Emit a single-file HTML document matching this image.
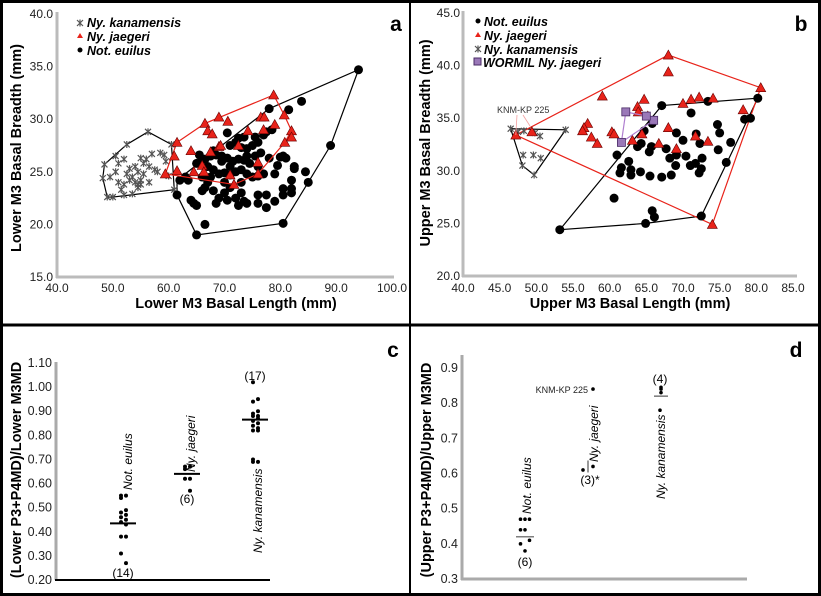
<!DOCTYPE html>
<html><head><meta charset="utf-8"><style>
html,body{margin:0;padding:0;background:#fff;}
svg{display:block;font-family:"Liberation Sans",sans-serif;}
</style></head><body>
<svg id="fig" width="821" height="596" viewBox="0 0 821 596" xmlns="http://www.w3.org/2000/svg">
<rect x="1.5" y="1.5" width="818" height="593" fill="#fff" stroke="#000" stroke-width="3"/>
<line x1="410" y1="0" x2="410" y2="596" stroke="#000" stroke-width="2"/>
<line x1="0" y1="325" x2="821" y2="325" stroke="#000" stroke-width="3"/>
<g id="gA"></g>
<g id="gB"></g>
<g id="gC"></g>
<g id="gD"></g>
</svg>
<script>
// ---------- DATA ----------
const aXTicks=[40,50,60,70,80,90,100];
const aYTicks=[15,20,25,30,35,40];
const aEuilus=[[62,24.2],[61.5,22.8],[63.5,24.2],[64,22.3],[64.5,22],[65,21.8],[66,23.2],[66.5,23.5],[67,24],[67.5,24.5],[68,23.2],[68.5,22],[69,22.5],[70,23],[70.5,22.3],[71,23.5],[72,22.5],[72.5,21.8],[73,23],[73.5,22.2],[74,22],[76,22.8],[76,22],[77.5,22.8],[77.5,21.6],[79,22.2],[80.5,22.8],[80.5,23.4],[82,23],[82,23.4],[82,24.2],[82.5,25.5],[82.5,25.3],[80,26.4],[80.5,26.5],[81,26.3],[79,24.8],[79.5,25.6],[77,24.8],[76,24.6],[75,24.5],[74,24.8],[73,25.2],[72,25],[71,24.7],[70,24.9],[69,24.8],[68,25.2],[67,25.5],[66,26.2],[65,25.8],[65.5,26.6],[66.5,26.2],[67.5,26.5],[68.5,26.6],[69.5,26.5],[70.5,26.3],[71.5,26],[72.5,26.2],[73.5,26.1],[74.5,25.8],[75.5,26.5],[76.5,26.8],[75,27.5],[74,27.2],[73,27.3],[72,27.8],[71,27.5],[70.5,28.7],[72.5,28.2],[73.5,28.3],[75.5,28.3],[76,27.8],[77,28.5],[77.5,28.8],[78.5,29],[78,31],[81.5,30.9],[83.8,31.7],[84.5,25],[85,24],[80.5,20.1],[65,19],[66.5,20],[94,34.7],[89,27.5],[70,24],[68,27],[69.5,26],[74,26.5],[76,25.5],[78,26.3],[71,25.5],[73,24],[66,24.5],[63,24.5]];
const aEuilusHull=[[94,34.7],[89,27.5],[85,24],[80.5,20.1],[65,19],[61.5,22.8],[61.5,24.2],[78,31]];
const aJaegeri=[[61.5,27.8],[59.4,24.8],[71.7,23.8],[76,24.8],[80.8,27.8],[82,28.9],[80.7,30.4],[78.8,32.3],[66.5,29.6],[69,30.2],[70.6,29.8],[76.5,30.2],[77.1,30.2],[67,28.9],[67.8,28.6],[74.2,28.9],[77,29],[79,29.5],[69,27.4],[69.3,27.5],[64,27],[61,26.5],[72.5,27.5],[67.5,26.9],[66,25.6],[64.5,25],[66.3,25],[61.5,25.1],[71,24.7],[76,25.9],[82,28.3]];
const aJaegeriHull=[[61.5,27.8],[59.4,24.8],[71.7,23.8],[76,24.8],[80.8,27.8],[82,28.9],[80.7,30.4],[78.8,32.3],[66.5,29.6]];
const aKanam=[[48.5,25.7],[52.5,27.6],[56.3,28.8],[60.5,27.6],[61,23.3],[50,22.6],[49,22.6],[48.2,24.4],[49.5,24.5],[50.5,25],[51,24],[51.5,23.3],[52,23.8],[52.5,24.8],[53,25.3],[53.5,24.5],[54,24],[54,25.5],[54.5,23.8],[54.5,25],[55,24.2],[55,26.3],[55.5,24.8],[55.5,25.8],[56,26.2],[56.5,25.5],[56.5,24],[57,26.7],[58.5,26.8],[59.2,26.6],[59.5,26],[58,25],[57.5,25.2],[52,26.2],[50.5,26.5],[53.5,22.9],[52,22.8],[60,24.6],[51,25.8],[53,24.2],[54.5,23.5],[55,23.8]];
const aKanamHull=[[48.5,25.7],[52.5,27.6],[56.3,28.8],[60.5,27.6],[61,23.3],[50,22.6],[49,22.6],[48.2,24.4]];

const bXTicks=[40,45,50,55,60,65,70,75,80,85];
const bYTicks=[20,25,30,35,40,45];
const bEuilus=[[53.2,24.4],[64.9,25],[72.5,25.7],[80.2,36.9],[67.1,36.2],[73.4,36.6],[71.1,35.5],[74.7,34.4],[75,33.6],[78.4,34.9],[79.2,35],[69.1,33.6],[70,32.9],[71.8,33.5],[72.3,32.6],[67.7,32.1],[64.3,32.6],[63.8,32.3],[65.7,32.3],[65.4,31.8],[68.2,31.2],[69.1,31.5],[70.4,31.4],[72.6,31.2],[74.8,32],[76.5,32.7],[75.9,30.8],[62.6,30.9],[61.6,30.3],[62.9,30.1],[61.4,29.8],[62.9,29.6],[64.2,29.9],[65.5,29.5],[67.1,29.4],[68.4,29.6],[69,30.5],[71,30.5],[71.7,30.7],[72.2,29.8],[72.5,30.2],[61,31.5],[65.8,34.5],[64.7,33.8],[60.6,27.4],[65.8,26.2],[66.1,25.6]];
const bEuilusHull=[[53.2,24.4],[67.1,36.2],[80.2,36.9],[72.5,25.7],[64.9,25]];
const bJaegeri=[[47.2,33.4],[68,41],[80.6,37.9],[74,24.9],[68,39.4],[59,37.1],[64.7,36.8],[63.8,36.1],[63.9,35.6],[57,34.5],[56.5,34.1],[56.3,33.8],[57.5,33.2],[58.3,32.6],[60.3,33.7],[60.6,33.5],[63.1,32.9],[64.4,33.5],[49.4,33.7],[68,34.1],[66.7,32.6],[69.1,32.1],[70,36.4],[71.1,36.8],[72.2,37],[74.1,36.9],[73.4,32.8],[71.7,33.3],[78.2,35.8],[65.2,35.2]];
const bJaegeriHull=[[47.2,33.4],[68,41],[80.6,37.9],[74,24.9]];
const bKanam=[[46.5,34],[54,33.9],[49.7,29.6],[48.1,30.5],[47.5,33.7],[48.2,31.5],[49.6,31.5],[50.6,31.2],[50.5,33.3],[49.8,33.6],[48.3,33.8]];
const bKanamHull=[[46.5,34],[54,33.9],[49.7,29.6],[48.1,30.5]];
const bWormil=[[62.2,35.6],[61.6,32.7],[66,34.8],[65,35.2]];

const cTicks=[0.2,0.3,0.4,0.5,0.6,0.7,0.8,0.9,1.0,1.1];
const cEuilus=[0.55,0.55,0.54,0.49,0.48,0.47,0.46,0.45,0.44,0.43,0.38,0.38,0.31,0.27];
const cJaegeri=[0.67,0.67,0.66,0.62,0.62,0.57];
const cKanam=[1.02,0.95,0.94,0.90,0.89,0.88,0.88,0.87,0.86,0.85,0.84,0.83,0.82,0.82,0.70,0.69,0.69];
const cMeans=[0.435,0.64,0.865];

const dTicks=[0.3,0.4,0.5,0.6,0.7,0.8,0.9];
const dEuilus=[0.47,0.47,0.47,0.44,0.44,0.41,0.40,0.38];
const dJaegeri=[0.84,0.62,0.61];
const dKanam=[0.845,0.84,0.83,0.78];
const dMeans=[0.42,0.62,0.82];

// ---------- HELPERS ----------
const NS="http://www.w3.org/2000/svg";
function mk(parent,tag,attrs,txt){const e=document.createElementNS(NS,tag);for(const k in attrs)e.setAttribute(k,attrs[k]);if(txt!==undefined)e.textContent=txt;parent.appendChild(e);return e;}
function lin(d0,d1,r0,r1){return v=>r0+(v-d0)/(d1-d0)*(r1-r0);}
function dot(g,x,y,r){const e=mk(g,'circle',{cx:x,cy:y,r:r,fill:'#000'});

return e;}
function tri(g,x,y){const e=mk(g,'polygon',{points:`${x},${y-5} ${x+5},${y+4} ${x-5},${y+4}`,fill:'#e8231a',stroke:'#600',"stroke-width":0.6});

}
function cross(g,x,y){const e=mk(g,'path',{d:`M${x-3},${y-3}L${x+3},${y+3}M${x-3},${y+3}L${x+3},${y-3}M${x},${y-3.5}L${x},${y+3.5}`,stroke:'#555',"stroke-width":1.2,fill:'none'});

}
function sq(g,x,y){const e=mk(g,'rect',{x:x-4,y:y-4,width:8,height:8,fill:'#9a78b8',stroke:'#4a2c66',"stroke-width":0.8});

}
function hull(g,pts,sx,sy,color,name){const e=mk(g,'polygon',{points:pts.map(p=>sx(p[0])+','+sy(p[1])).join(' '),fill:'none',stroke:color,"stroke-width":1.2});

}
function txt(g,x,y,s,attrs,name){const e=mk(g,'text',Object.assign({x:x,y:y},attrs),s);

return e;}

// ---------- PANEL A ----------
(function(){
const g=document.getElementById('gA');
const sx=lin(40,100,57,392), sy=lin(15,40,277,14);
mk(g,'line',{x1:57,y1:12,x2:57,y2:278,stroke:'#bbb',"stroke-width":3});
mk(g,'line',{x1:56,y1:277,x2:394,y2:277,stroke:'#bbb',"stroke-width":3});
aYTicks.forEach(t=>txt(g,53,sy(t)+4,t.toFixed(1),{"text-anchor":"end","font-size":12,fill:"#222"},'y-tick-label'));
aXTicks.forEach(t=>txt(g,sx(t),292,t.toFixed(1),{"text-anchor":"middle","font-size":12,fill:"#222"},'x-tick-label'));
txt(g,236,308,'Lower M3 Basal Length (mm)',{"text-anchor":"middle","font-size":14.5,"font-weight":"bold"},'x-axis-title');
txt(g,0,0,'Lower M3 Basal Breadth (mm)',{"text-anchor":"middle","font-size":14.5,"font-weight":"bold",transform:"translate(21,148) rotate(-90)"},'y-axis-title');
txt(g,396,31,'a',{"text-anchor":"middle","font-size":21,"font-weight":"bold"},'panel-label');
hull(g,aKanamHull,sx,sy,'#000','kanamensis-hull');
hull(g,aEuilusHull,sx,sy,'#000','euilus-hull');
aKanam.forEach(p=>cross(g,sx(p[0]),sy(p[1])));
aEuilus.forEach(p=>dot(g,sx(p[0]),sy(p[1]),4.5));
hull(g,aJaegeriHull,sx,sy,'#e8231a','jaegeri-hull');
aJaegeri.forEach(p=>tri(g,sx(p[0]),sy(p[1])));
cross(g,80,23);txt(g,87,27,'Ny. kanamensis',{"font-size":12.5,"font-weight":"bold","font-style":"italic"},'legend-entry');
mk(g,'polygon',{points:"80,33 83,38 77,38",fill:'#e8231a'});txt(g,87,41,'Ny. jaegeri',{"font-size":12.5,"font-weight":"bold","font-style":"italic"},'legend-entry');
dot(g,80,50,2.5);txt(g,87,55,'Not. euilus',{"font-size":12.5,"font-weight":"bold","font-style":"italic"},'legend-entry');
})();

// ---------- PANEL B ----------
(function(){
const g=document.getElementById('gB');
const sx=lin(40,85,463,793), sy=lin(20,45,276,13);
mk(g,'line',{x1:463,y1:11,x2:463,y2:277,stroke:'#bbb',"stroke-width":3});
mk(g,'line',{x1:462,y1:276,x2:797,y2:276,stroke:'#bbb',"stroke-width":3});
bYTicks.forEach(t=>txt(g,460,sy(t)+4,t.toFixed(1),{"text-anchor":"end","font-size":12,fill:"#222"},'y-tick-label'));
bXTicks.forEach(t=>txt(g,sx(t),292,t.toFixed(1),{"text-anchor":"middle","font-size":12,fill:"#222"},'x-tick-label'));
txt(g,630,308,'Upper M3 Basal Length (mm)',{"text-anchor":"middle","font-size":14.5,"font-weight":"bold"},'x-axis-title');
txt(g,0,0,'Upper M3 Basal Breadth (mm)',{"text-anchor":"middle","font-size":14.5,"font-weight":"bold",transform:"translate(430,143) rotate(-90)"},'y-axis-title');
txt(g,801,31,'b',{"text-anchor":"middle","font-size":21,"font-weight":"bold"},'panel-label');
hull(g,bKanamHull,sx,sy,'#000','kanamensis-hull');
hull(g,bEuilusHull,sx,sy,'#000','euilus-hull');
hull(g,bJaegeriHull,sx,sy,'#e8231a','jaegeri-hull');
bKanam.forEach(p=>cross(g,sx(p[0]),sy(p[1])));
bEuilus.forEach(p=>dot(g,sx(p[0]),sy(p[1]),4.5));
bJaegeri.forEach(p=>tri(g,sx(p[0]),sy(p[1])));
const wl=mk(g,'polyline',{points:[0,1,2,3,0].map(i=>sx(bWormil[i][0])+','+sy(bWormil[i][1])).join(' '),fill:'none',stroke:'#b07fd0',"stroke-width":1.2});


bWormil.forEach(p=>sq(g,sx(p[0]),sy(p[1])));
mk(g,'path',{d:`M517,115 L${sx(47.2)},${sy(33.4)} M523,115 L530,126`,stroke:'#f3a0a0',"stroke-width":0.8,fill:'none'});
txt(g,497,113,'KNM-KP 225',{"font-size":9,fill:"#333"},'specimen-label');
dot(g,478,21,2.5);txt(g,484,26,'Not. euilus',{"font-size":12.5,"font-weight":"bold","font-style":"italic"},'legend-entry');
mk(g,'polygon',{points:"478,32 481,37 475,37",fill:'#e8231a'});txt(g,484,40,'Ny. jaegeri',{"font-size":12.5,"font-weight":"bold","font-style":"italic"},'legend-entry');
cross(g,478,49);txt(g,484,54,'Ny. kanamensis',{"font-size":12.5,"font-weight":"bold","font-style":"italic"},'legend-entry');
mk(g,'rect',{x:474,y:58,width:7,height:7,fill:'#9a78b8',stroke:'#4a2c66'});txt(g,483,67,'WORMIL Ny. jaegeri',{"font-size":12.5,"font-weight":"bold","font-style":"italic"},'legend-entry');
})();

// ---------- PANEL C ----------
(function(){
const g=document.getElementById('gC');
const sy=lin(0.2,1.1,580,363);
mk(g,'line',{x1:56,y1:362,x2:56,y2:580,stroke:'#aaa',"stroke-width":3});
mk(g,'line',{x1:55,y1:580,x2:270,y2:580,stroke:'#000',"stroke-width":2});
cTicks.forEach(t=>txt(g,52,sy(t)+4,t.toFixed(2),{"text-anchor":"end","font-size":12.5,fill:"#222"},'y-tick-label'));
txt(g,0,0,'(Lower P3+P4MD)/Lower M3MD',{"text-anchor":"middle","font-size":14.5,"font-weight":"bold",transform:"translate(21,470) rotate(-90)"},'y-axis-title');
txt(g,393,357,'c',{"text-anchor":"middle","font-size":21,"font-weight":"bold"},'panel-label');
const cols=[[cEuilus,123],[cJaegeri,187],[cKanam,255]];
cols.forEach((c,ci)=>{c[0].forEach((v,i)=>dot(g,c[1]+(i%2?3:-2),sy(v),2));
const m=mk(g,'line',{x1:c[1]-13,x2:c[1]+13,y1:sy(cMeans[ci]),y2:sy(cMeans[ci]),stroke:'#000',"stroke-width":2});

});
const it={"font-size":12,"font-style":"italic"};
txt(g,0,0,'Not. euilus',Object.assign({transform:"translate(132,490) rotate(-90)"},it),'group-label');
txt(g,0,0,'Ny. jaegeri',Object.assign({transform:"translate(195,472) rotate(-90)"},it),'group-label');
txt(g,0,0,'Ny. kanamensis',Object.assign({transform:"translate(262,553) rotate(-90)"},it),'group-label');
txt(g,123,577,'(14)',{"text-anchor":"middle","font-size":12},'n-label');
txt(g,187,503,'(6)',{"text-anchor":"middle","font-size":12},'n-label');
txt(g,255,380,'(17)',{"text-anchor":"middle","font-size":12},'n-label');
})();

// ---------- PANEL D ----------
(function(){
const g=document.getElementById('gD');
const sy=lin(0.3,0.9,579,368);
mk(g,'line',{x1:462,y1:355,x2:462,y2:580,stroke:'#aaa',"stroke-width":3});
mk(g,'line',{x1:461,y1:579,x2:747,y2:579,stroke:'#aaa',"stroke-width":3});
dTicks.forEach(t=>txt(g,458,sy(t)+4,t.toFixed(1),{"text-anchor":"end","font-size":12.5,fill:"#222"},'y-tick-label'));
txt(g,0,0,'(Upper P3+P4MD)/Upper M3MD',{"text-anchor":"middle","font-size":14.5,"font-weight":"bold",transform:"translate(431,470) rotate(-90)"},'y-axis-title');
txt(g,796,357,'d',{"text-anchor":"middle","font-size":21,"font-weight":"bold"},'panel-label');
dEuilus.forEach((v,i)=>dot(g,525+((i%3)-1)*4.5,sy(v),1.8));
dJaegeri.forEach((v,i)=>dot(g,i===2?583:593,sy(v),1.8));
dKanam.forEach((v,i)=>dot(g,i===3?660:661,sy(v),1.8));
[[516,534,sy(dMeans[0]),sy(dMeans[0])],[588,588,sy(dMeans[1])-6,sy(dMeans[1])+6],[654,668,sy(dMeans[2]),sy(dMeans[2])]].forEach(l=>{
const m=mk(g,'line',{x1:l[0],x2:l[1],y1:l[2],y2:l[3],stroke:'#555',"stroke-width":1.2});

});
const it={"font-size":12,"font-style":"italic"};
txt(g,0,0,'Not. euilus',Object.assign({transform:"translate(531,514) rotate(-90)"},it),'group-label');
txt(g,0,0,'Ny. jaegeri',Object.assign({transform:"translate(598,462) rotate(-90)"},it),'group-label');
txt(g,0,0,'Ny. kanamensis',Object.assign({transform:"translate(665,499) rotate(-90)"},it),'group-label');
txt(g,588,393,'KNM-KP 225',{"text-anchor":"end","font-size":9,fill:"#222"},'specimen-label');
txt(g,525,566,'(6)',{"text-anchor":"middle","font-size":12},'n-label');
txt(g,590,484,'(3)*',{"text-anchor":"middle","font-size":12},'n-label');
txt(g,660,383,'(4)',{"text-anchor":"middle","font-size":12},'n-label');
})();
</script>
</body></html>
